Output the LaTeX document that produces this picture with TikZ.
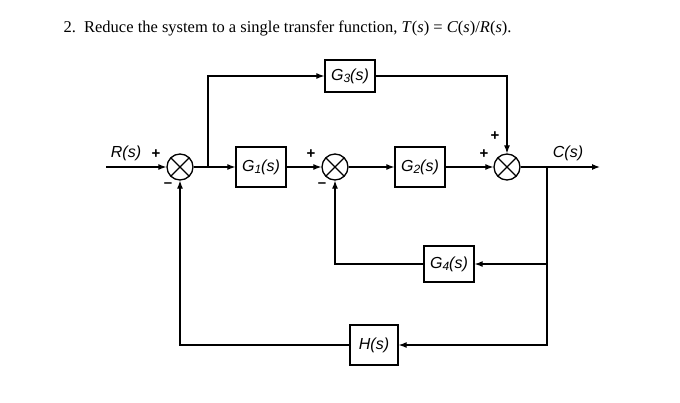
\documentclass[tikz,border=0pt]{standalone}
\usepackage{fontspec}
\setmainfont{Liberation Serif}
\setsansfont{Liberation Sans}
\usetikzlibrary{arrows.meta}
\begin{document}
\begin{tikzpicture}[x=1pt,y=-1pt,
  blk/.style={draw,line width=1.3pt,minimum width=50pt,minimum height=40pt,inner sep=1pt,font=\sffamily\itshape\fontsize{16}{18}\selectfont},
  sum/.style={draw,line width=1.3pt,circle,minimum size=26pt,inner sep=0pt,path picture={\draw[line width=1.3pt] (path picture bounding box.north west)--(path picture bounding box.south east) (path picture bounding box.north east)--(path picture bounding box.south west);}},
  ar/.style={line width=1.2pt,-{Latex[length=8pt,width=6pt]}},
  lbl/.style={font=\sffamily\itshape\fontsize{16}{18}\selectfont},
  sg/.style={font=\sffamily\bfseries\fontsize{15}{15}\selectfont}]
\useasboundingbox (0,0) rectangle (680,402);
\node[anchor=west,font=\fontsize{16.5}{18}\selectfont] (title) at (60,28) {2.\ \ Reduce the system to a single transfer function, \textit{T}(\textit{s}) = \textit{C}(\textit{s})/\textit{R}(\textit{s}).};
\coordinate (in) at (106,167);
\node[sum] (s1) at (180,167) {};
\node[blk] (g1) at (261,167) {G\raisebox{-2pt}{\fontsize{12}{12}\selectfont 1}(s)};
\node[sum] (s2) at (335,167) {};
\node[blk] (g2) at (420,167) {G\raisebox{-2pt}{\fontsize{12}{12}\selectfont 2}(s)};
\node[sum] (s3) at (507,167) {};
\coordinate (out) at (600,167);
\node[blk,minimum height=32pt] (g3) at (350,76) {G\raisebox{-2pt}{\fontsize{12}{12}\selectfont 3}(s)};
\node[blk,minimum height=36pt] (g4) at (449,264) {G\raisebox{-2pt}{\fontsize{12}{12}\selectfont 4}(s)};
\node[blk,minimum width=48pt] (h) at (374,345) {H(s)};
\coordinate (b1) at (208,167);
\coordinate (b2) at (547,167);
\node[lbl] (rl) at (126,153) {R(s)};
\node[lbl] (cl) at (568,153) {C(s)};
\node[sg] (p1) at (156,154) {+};
\node[sg] (m1) at (168,185) {--};
\node[sg] (p2) at (311,154) {+};
\node[sg] (m2) at (322,185) {--};
\node[sg] (p3) at (484,154) {+};
\node[sg] (p4) at (495,136) {+};
\draw[ar] (in) -- (s1);
\draw[ar] (s1) -- (g1);
\draw[ar] (g1) -- (s2);
\draw[ar] (s2) -- (g2);
\draw[ar] (g2) -- (s3);
\draw[ar] (s3) -- (out);
\draw[ar] (b1) |- (g3);
\draw[ar] (g3) -| (s3);
\draw[ar] (b2) |- (g4);
\draw[ar] (g4) -| (s2);
\draw[ar] (b2) |- (h);
\draw[ar] (h) -| (s1);
\end{tikzpicture}
\end{document}
